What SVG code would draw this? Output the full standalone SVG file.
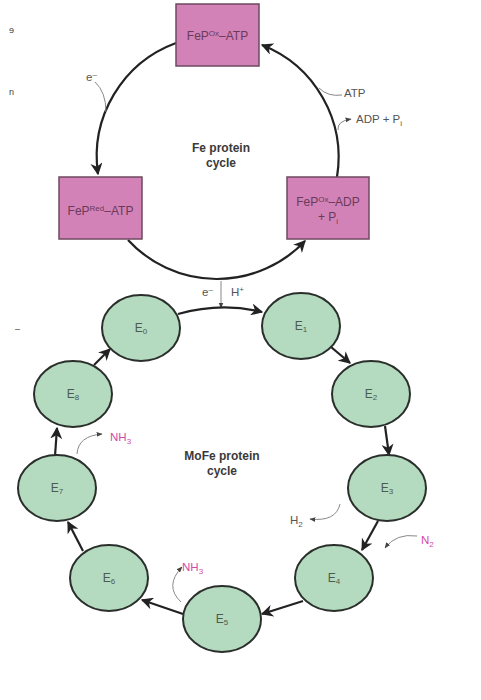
<svg xmlns="http://www.w3.org/2000/svg" width="481" height="700" viewBox="0 0 481 700">
<defs>
<style>
.box{fill:#d282b6;stroke:#6d4a60;stroke-width:1.5}
.node{fill:#b4dbbf;stroke:#2b2f2c;stroke-width:2}
.btxt{font-family:"Liberation Sans",Arial,sans-serif;font-size:12px;fill:#6a3a5c;text-anchor:middle}
.ntxt{font-family:"Liberation Sans",Arial,sans-serif;font-size:12px;fill:#4c5a51;text-anchor:middle}
.lbl{font-family:"Liberation Sans",Arial,sans-serif;font-size:11.5px;fill:#555555}
.mark{font-family:"Liberation Sans",Arial,sans-serif;font-size:9px;fill:#444444}
.mag{font-family:"Liberation Sans",Arial,sans-serif;font-size:11.5px;fill:#d24aa8}
.title{font-family:"Liberation Sans",Arial,sans-serif;font-size:12px;font-weight:bold;fill:#3a3a3a;text-anchor:middle}
.main{fill:none;stroke:#222;stroke-width:2.2}
.thin{fill:none;stroke:#888;stroke-width:1}
.sub{font-size:8px}
</style>
<marker id="ah" viewBox="0 0 10 10" refX="9" refY="5" markerWidth="5.5" markerHeight="5.5" orient="auto" markerUnits="strokeWidth">
<path d="M0,0 L10,5 L0,10 L3,5 z" fill="#222"/>
</marker>
<marker id="ahs" viewBox="0 0 10 10" refX="9" refY="5" markerWidth="6" markerHeight="6" orient="auto" markerUnits="strokeWidth">
<path d="M0,1 L10,5 L0,9 z" fill="#444"/>
</marker>
</defs>
<rect width="481" height="700" fill="#ffffff"/>

<g id="edge-marks">
<text x="9" y="33" class="mark">ɘ</text>
<text x="9" y="95" class="mark">n</text>
<text x="15" y="332" class="mark">–</text>
</g>

<g id="connectors">
<path class="main" d="M176,43 A121,121 0 0 0 98,174" marker-end="url(#ah)"/>
<path class="main" d="M128,240 A121,121 0 0 0 305,241" marker-end="url(#ah)"/>
<path class="main" d="M337,177 A121,121 0 0 0 262,45" marker-end="url(#ah)"/>
<path class="thin" d="M95,82 Q106,92 106,112"/>
<path class="thin" d="M342,95 Q328,97 319,88"/>
<path class="thin" d="M338,130 Q337,121 351,119" marker-end="url(#ahs)"/>
<path class="thin" d="M221,281 L221,308" marker-end="url(#ahs)"/>
<path class="main" d="M178,314 Q221,302 262,312" marker-end="url(#ah)"/>
<path class="main" d="M331,347 L350,363" marker-end="url(#ah)"/>
<path class="main" d="M385,426 L389,455" marker-end="url(#ah)"/>
<path class="main" d="M378,521 L362,550" marker-end="url(#ah)"/>
<path class="main" d="M303,601 L262,614" marker-end="url(#ah)"/>
<path class="main" d="M183,614 L142,600" marker-end="url(#ah)"/>
<path class="main" d="M83,551 L68,522" marker-end="url(#ah)"/>
<path class="main" d="M55,456 L57,428" marker-end="url(#ah)"/>
<path class="main" d="M94,365 L110,349" marker-end="url(#ah)"/>
<path class="thin" d="M77,454 Q78,436 102,434" marker-end="url(#ahs)"/>
<path class="thin" d="M340,504 Q336,522 310,519" marker-end="url(#ahs)"/>
<path class="thin" d="M417,536 Q396,533 385,548" marker-end="url(#ahs)"/>
<path class="thin" d="M181,602 Q164,586 182,567" marker-end="url(#ahs)"/>
</g>

<g id="fep-ox-atp">
<rect class="box" x="176" y="4" width="83" height="62"/>
<text class="btxt" x="217.5" y="40">FeP<tspan class="sub" dy="-4">Ox</tspan><tspan dy="4">–ATP</tspan></text>
</g>
<g id="fep-red-atp">
<rect class="box" x="59" y="177" width="83" height="62"/>
<text class="btxt" x="100.5" y="215">FeP<tspan class="sub" dy="-4">Red</tspan><tspan dy="4">–ATP</tspan></text>
</g>
<g id="fep-ox-adp">
<rect class="box" x="287" y="177" width="82" height="62"/>
<text class="btxt" x="328" y="206">FeP<tspan class="sub" dy="-4">Ox</tspan><tspan dy="4">–ADP</tspan></text>
<text class="btxt" x="328" y="221">+ P<tspan class="sub" dy="3">i</tspan></text>
</g>

<g id="fe-labels">
<text class="lbl" x="86" y="81">e<tspan class="sub" dy="-4">–</tspan></text>
<text class="lbl" x="344" y="97">ATP</text>
<text class="lbl" x="356" y="123">ADP + P<tspan class="sub" dy="3">i</tspan></text>
<text class="title" x="221" y="152">Fe protein</text>
<text class="title" x="221" y="167">cycle</text>
<text class="lbl" x="202" y="296">e<tspan class="sub" dy="-4">–</tspan></text>
<text class="lbl" x="231" y="296">H<tspan class="sub" dy="-4">+</tspan></text>
</g>

<g id="E0"><ellipse class="node" cx="141" cy="328" rx="39" ry="33"/><text class="ntxt" x="141" y="332">E<tspan class="sub" dy="2">0</tspan></text></g>
<g id="E1"><ellipse class="node" cx="301" cy="326" rx="39" ry="33"/><text class="ntxt" x="301" y="330">E<tspan class="sub" dy="2">1</tspan></text></g>
<g id="E2"><ellipse class="node" cx="371" cy="394" rx="39" ry="33"/><text class="ntxt" x="371" y="398">E<tspan class="sub" dy="2">2</tspan></text></g>
<g id="E3"><ellipse class="node" cx="387" cy="488" rx="39" ry="33"/><text class="ntxt" x="387" y="492">E<tspan class="sub" dy="2">3</tspan></text></g>
<g id="E4"><ellipse class="node" cx="334" cy="578" rx="39" ry="33"/><text class="ntxt" x="334" y="582">E<tspan class="sub" dy="2">4</tspan></text></g>
<g id="E5"><ellipse class="node" cx="222" cy="619" rx="39" ry="33"/><text class="ntxt" x="222" y="623">E<tspan class="sub" dy="2">5</tspan></text></g>
<g id="E6"><ellipse class="node" cx="109" cy="578" rx="39" ry="33"/><text class="ntxt" x="109" y="582">E<tspan class="sub" dy="2">6</tspan></text></g>
<g id="E7"><ellipse class="node" cx="57" cy="488" rx="39" ry="33"/><text class="ntxt" x="57" y="492">E<tspan class="sub" dy="2">7</tspan></text></g>
<g id="E8"><ellipse class="node" cx="73" cy="394" rx="39" ry="33"/><text class="ntxt" x="73" y="398">E<tspan class="sub" dy="2">8</tspan></text></g>

<g id="mofe-labels">
<text class="title" x="222" y="460">MoFe protein</text>
<text class="title" x="222" y="475">cycle</text>
<text class="mag" x="110" y="441">NH<tspan class="sub" dy="3">3</tspan></text>
<text class="lbl" x="290" y="524">H<tspan class="sub" dy="3">2</tspan></text>
<text class="mag" x="421" y="544">N<tspan class="sub" dy="3">2</tspan></text>
<text class="mag" x="182" y="571">NH<tspan class="sub" dy="3">3</tspan></text>
</g>
</svg>
